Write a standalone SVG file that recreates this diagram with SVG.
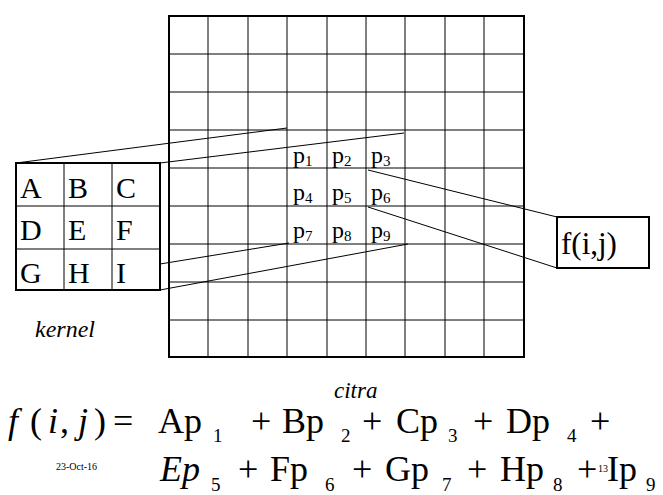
<svg xmlns="http://www.w3.org/2000/svg" width="663" height="495" viewBox="0 0 663 495">
<style>
.g{stroke:#000;stroke-width:1;fill:none}
.t{font-family:"Liberation Serif","Times New Roman","DejaVu Serif",serif;fill:#000}
.k{font-size:30px}
.p{font-size:24px}
.s{font-size:15px}
.e{font-size:36px}
.es{font-size:19px}
</style>
<rect width="663" height="495" fill="#fff"/>
<g id="grid">
<path class="g" d="M208 16V357M248 16V357M287 16V357M327 16V357M366 16V357M405 16V357M445 16V357M484 16V357M169 54H524M169 92H524M169 130H524M169 168H524M169 206H524M169 244H524M169 282H524M169 320H524"/>
<rect x="169" y="16" width="355" height="341" fill="none" stroke="#000" stroke-width="2"/>
<g class="t p">
<text x="293" y="163">p<tspan class="s" dy="3">1</tspan></text>
<text x="332" y="163">p<tspan class="s" dy="3">2</tspan></text>
<text x="371" y="163">p<tspan class="s" dy="3">3</tspan></text>
<text x="293" y="200">p<tspan class="s" dy="3">4</tspan></text>
<text x="332" y="200">p<tspan class="s" dy="3">5</tspan></text>
<text x="371" y="200">p<tspan class="s" dy="3">6</tspan></text>
<text x="293" y="238">p<tspan class="s" dy="3">7</tspan></text>
<text x="332" y="238">p<tspan class="s" dy="3">8</tspan></text>
<text x="371" y="238">p<tspan class="s" dy="3">9</tspan></text>
</g>
</g>
<g id="kernel">
<path class="g" d="M64 163V290M112 163V290M16 206H160M16 249H160"/>
<rect x="16" y="163" width="144" height="127" fill="none" stroke="#000" stroke-width="2"/>
<g class="t k">
<text x="20" y="198">A</text><text x="68" y="198">B</text><text x="116" y="198">C</text>
<text x="20" y="240">D</text><text x="68" y="240">E</text><text x="116" y="240">F</text>
<text x="20" y="283">G</text><text x="68" y="283">H</text><text x="116" y="283">I</text>
</g>
</g>
<g id="fij">
<rect x="557" y="217" width="92" height="51" fill="#fff" stroke="#000" stroke-width="2"/>
<text class="t" x="561" y="254" font-size="31">f(i,j)</text>
</g>
<g id="connectors" class="g">
<path d="M16 163L287 128M160 163L404 133M160 264L289 243M160 290L408 244M368 170L557 217M368 207L557 268"/>
</g>
<g id="labels" class="t">
<text x="35" y="337" font-size="24" font-style="italic">kernel</text>
<text x="334" y="398" font-size="23" font-style="italic">citra</text>
<text x="56" y="470" font-size="10">23-Oct-16</text>
</g>
<g id="equation" class="t">
<text class="e" y="433"><tspan x="8" font-style="italic">f</tspan><tspan x="30">(</tspan><tspan x="48" font-style="italic">i</tspan><tspan x="60">,</tspan><tspan x="78" font-style="italic">j</tspan><tspan x="94">)</tspan><tspan x="113">=</tspan><tspan x="158">Ap</tspan><tspan x="251">+</tspan><tspan x="282">Bp</tspan><tspan x="362">+</tspan><tspan x="396">Cp</tspan><tspan x="473">+</tspan><tspan x="506">Dp</tspan><tspan x="590">+</tspan></text>
<text class="es" y="442"><tspan x="213">1</tspan><tspan x="341">2</tspan><tspan x="448">3</tspan><tspan x="567">4</tspan></text>
<text class="e" y="481"><tspan x="160" font-style="italic">Ep</tspan><tspan x="238">+</tspan><tspan x="270">Fp</tspan><tspan x="352">+</tspan><tspan x="385">Gp</tspan><tspan x="467">+</tspan><tspan x="500">Hp</tspan><tspan x="577">+</tspan><tspan x="607">Ip</tspan></text>
<text class="es" y="491"><tspan x="211">5</tspan><tspan x="325">6</tspan><tspan x="442">7</tspan><tspan x="553">8</tspan><tspan x="646">9</tspan></text>
<text x="598" y="472" font-size="10">13</text>
</g>
</svg>
